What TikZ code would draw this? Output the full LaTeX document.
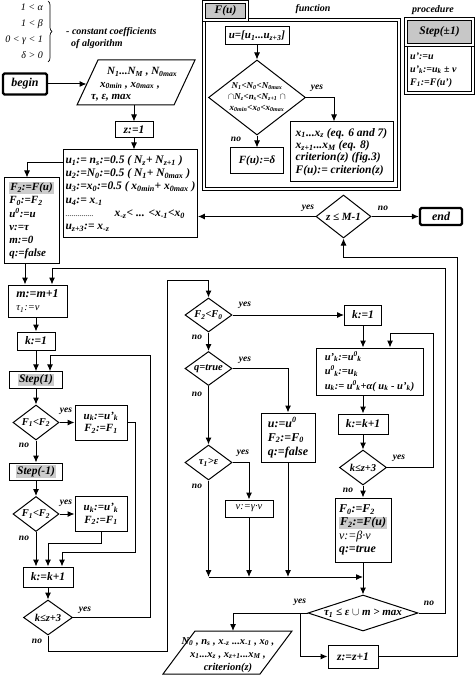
\documentclass[tikz,border=0pt]{standalone}
\usepackage{fontspec}
\setmainfont{Liberation Serif}
\usetikzlibrary{arrows.meta,shapes.geometric,decorations.pathreplacing}

\definecolor{tabgray}{gray}{0.78}
\definecolor{hlgray}{gray}{0.8}
\newcommand\sB[1]{\textsubscript{#1}}
\newcommand\sP[1]{\textsuperscript{#1}}
\newcommand\sPB[2]{\textsuperscript{#1}\kern-0.5pt\textsubscript{#2}}
\newcommand\hl[1]{{\setlength{\fboxsep}{1pt}\colorbox{hlgray}{#1}}}
\newcommand\fsz[2]{\fontsize{#1}{#2}\selectfont}

\tikzset{
  txt/.style={font=\bfseries\itshape\fsz{11.5}{13.5}, inner sep=1pt},
  box/.style={txt, draw, line width=1pt, inner sep=2pt, align=center},
  term/.style={box, line width=2.4pt, rounded corners=1.5pt, font=\bfseries\itshape\fsz{12}{14}},
  dia/.style={diamond, draw, line width=1pt, inner sep=1pt},
  dtxt/.style={txt, font=\bfseries\itshape\fsz{10.5}{12}},
  frame/.style={draw, double, double distance=1.8pt, line width=0.9pt},
  arr/.style={-{Latex[length=7pt,width=6pt]}, line width=1pt},
  yn/.style={txt, font=\bfseries\itshape\fsz{9.5}{10}},
}

\begin{document}
\begin{tikzpicture}[x=1pt, y=-1pt]
	\useasboundingbox (0,0) rectangle (474,676);

	% Draw constants of the algorithm.
	\node[txt, font=\itshape\fsz{10}{16}, align=right, anchor=east] (coef) at (44,31) {1 < α\\1 < β\\0 < γ < 1\\δ > 0};
	\draw[decorate, decoration={brace, amplitude=4pt}, line width=0.7pt] (48,1) -- (48,62);
	\node[txt, font=\bfseries\itshape\fsz{10}{12}, align=left, anchor=west] (note) at (65,38) {- constant coefficients\\\ \ of algorithm};

	% Draw start and input data.
	\node[term, minimum width=44, minimum height=21] (start) at (25,84) {begin};
	\draw[line width=1pt] (98,60) -- (195,60) -- (174,105) -- (77,105) -- cycle;
	\node[txt, font=\bfseries\itshape\fsz{11}{12.5}, align=left, anchor=west] (inp) at (90,84.5)
		{\hspace{16pt}N\sB{1}...N\sB{M} , N\sB{0max}\\\hspace{9pt}x\sB{0min} , x\sB{0max} ,\\τ, ε, max};
	\coordinate (inL) at (86.5,84);
	\coordinate (inB) at (134,105);

	% Draw initialisation.
	\node[box, minimum width=38, minimum height=16] (zone) at (134,130) {z:=1};
	\node[box, minimum width=133, minimum height=87, align=left, font=\bfseries\itshape\fsz{11.5}{13.3}] (ubox) at (130.5,193.5)
		{u\sB{1}:= n\sB{s}:=0.5 ( N\sB{z}+ N\sB{z+1} )\\u\sB{2}:=N\sB{0}:=0.5 ( N\sB{1}+ N\sB{0max} )\\u\sB{3}:=x\sB{0}:=0.5 ( x\sB{0min}+ x\sB{0max} )\\u\sB{4}:= x\sB{-1}\\\makebox[49pt][l]{\mdseries\fsz{8}{10}..............}x\sB{-z}< ... <x\sB{-1}<x\sB{0}\\u\sB{z+3}:= x\sB{-z}};
	\node[box, minimum width=55, minimum height=85, align=left, font=\bfseries\itshape\fsz{11}{13.2}] (ftwo) at (31.5,220.5)
		{\hl{F\sB{2}:=F(u)}\\F\sB{0}:=F\sB{2}\\u\sP{0}:=u\\ν:=τ\\m:=0\\q:=false};

	% Draw left column.
	\node[box, minimum width=59, minimum height=32, align=left, font=\bfseries\itshape\fsz{12}{13}] (mbox) at (37.5,301) {m:=m+1\\{\mdseries\fsz{10.5}{13}τ\sB{1}:=ν}};
	\node[box, minimum width=38, minimum height=18] (kone) at (36,341) {k:=1};
	\node[box, minimum width=53, minimum height=16] (sone) at (36,380) {\hl{Step(1)}};
	\node[dia, minimum width=46, minimum height=35, label={[dtxt]center:{F\sB{1}<F\sB{2}}}] (done) at (36,422.5) {};
	\node[box, minimum width=52, minimum height=35, font=\bfseries\itshape\fsz{11}{12.5}] (yone) at (101,422.5) {u\sB{k}:=u'\sB{k}\\F\sB{2}:=F\sB{1}};
	\node[box, minimum width=53, minimum height=17] (stwo) at (36,471.5) {\hl{Step(-1)}};
	\node[dia, minimum width=46, minimum height=35, label={[dtxt]center:{F\sB{1}<F\sB{2}}}] (dtwo) at (36,514) {};
	\node[box, minimum width=52, minimum height=35, font=\bfseries\itshape\fsz{11}{12.5}] (ytwo) at (101,514) {u\sB{k}:=u'\sB{k}\\F\sB{2}:=F\sB{1}};
	\node[box, minimum width=50, minimum height=20] (kinc) at (48,577) {k:=k+1};
	\node[dia, minimum width=49, minimum height=35, label={[dtxt]center:{k≤z+3}}] (kchk) at (48,617.5) {};

	% Draw middle column.
	\node[dia, minimum width=47, minimum height=34, label={[dtxt]center:{F\sB{2}<F\sB{0}}}] (dfz) at (208.5,315) {};
	\node[dia, minimum width=47, minimum height=34, label={[dtxt]center:{q=true}}] (dq) at (208.5,368.5) {};
	\node[dia, minimum width=47, minimum height=35, label={[dtxt]center:{τ\sB{1}>ε}}] (dtau) at (208.5,462.5) {};
	\node[box, minimum width=54, minimum height=49, align=left, font=\bfseries\itshape\fsz{12}{14}] (ures) at (288,437.5) {u:=u\sP{0}\\F\sB{2}:=F\sB{0}\\q:=false};
	\node[box, minimum width=48, minimum height=17, font=\mdseries\itshape\fsz{10.5}{12}] (nured) at (249,508.5) {ν:=γ·ν};

	% Draw right column.
	\node[dia, minimum width=55, minimum height=43, label={[dtxt, font=\bfseries\itshape\fsz{11}{12}]center:{z ≤ M-1}}] (zchk) at (343.5,216.5) {};
	\node[term, minimum width=42, minimum height=17] (fin) at (441,216.5) {end};
	\node[box, minimum width=37, minimum height=20] (ktwo) at (363,315) {k:=1};
	\node[box, minimum width=107, minimum height=47, align=left, font=\bfseries\itshape\fsz{10.5}{14.5}] (ubar) at (369.5,371.5)
		{u'\sB{k}:=u\sPB{0}{k}\\u\sPB{0}{k}:=u\sB{k}\\u\sB{k}:= u\sPB{0}{k}+α( u\sB{k} - u'\sB{k})};
	\node[box, minimum width=50, minimum height=20] (kinr) at (363,424) {k:=k+1};
	\node[dia, minimum width=47, minimum height=35, label={[dtxt]center:{k≤z+3}}] (kchr) at (363,467.5) {};
	\node[box, minimum width=56, minimum height=64, align=left, font=\bfseries\itshape\fsz{12}{13.5}] (fzero) at (363,530) {F\sB{0}:=F\sB{2}\\\hl{F\sB{2}:=F(u)}\\{\mdseries ν:=β·ν}\\q:=true};
	\node[dia, minimum width=110, minimum height=36, label={[dtxt, font=\bfseries\itshape\fsz{11}{12}]center:{τ\sB{1} ≤ ε $\cup$ m > max}}] (stop) at (363,613) {};
	\node[box, minimum width=50, minimum height=23] (zinc) at (353,656.5) {z:=z+1};

	% Draw output data.
	\draw[line width=1pt] (195,631) -- (292,631) -- (260,674) -- (163,674) -- cycle;
	\node[txt, font=\bfseries\itshape\fsz{10.5}{13}, align=center] (outp) at (228,655)
		{N\sB{0} , n\sB{s} , x\sB{-z} ...x\sB{-1} , x\sB{0} ,\\x\sB{1}...x\sB{z} , x\sB{z+1}...x\sB{M} ,\\criterion(z)};
	\coordinate (outtop) at (233,631);

	% Draw function F(u).
	\node[frame, minimum width=195, minimum height=169] (fun) at (301.5,104.5) {};
	\node[frame, fill=tabgray, minimum width=43, minimum height=18, txt, font=\bfseries\itshape\fsz{11.5}{13}] (funtab) at (225.5,11) {F(u)};
	\node[txt, font=\bfseries\itshape\fsz{10}{11}] (funlbl) at (313,9) {function};
	\node[box, minimum width=64, minimum height=18, font=\bfseries\itshape\fsz{11}{12}] (uvec) at (257,36) {u=[u\sB{1}...u\sB{z+3}]};
	\node[dia, minimum width=97, minimum height=75,
		label={[txt, align=center, font=\bfseries\itshape\fsz{9}{11}]center:{N\sB{1}<N\sB{0}<N\sB{0max}\\$\cap$N\sB{z}<n\sB{s}<N\sB{z+1} $\cap$\\x\sB{0min}<x\sB{0}<x\sB{0max}}}] (fdia) at (257,97.5) {};
	\node[box, minimum width=103, minimum height=60, align=left, font=\bfseries\itshape\fsz{11.5}{12.4}] (fval) at (341.5,152) {x\sB{1}...x\sB{z} (eq. 6 and 7)\\x\sB{z+1}...x\sB{M} (eq. 8)\\criterion(z) (fig.3)\\F(u):= criterion(z)};
	\node[box, minimum width=53, minimum height=26, font=\bfseries\itshape\fsz{11}{12}] (fpen) at (257,161) {F(u):=δ};

	% Draw procedure Step.
	\node[txt, font=\bfseries\itshape\fsz{10}{11}] (proclbl) at (433,10) {procedure};
	\node[frame, minimum width=67, minimum height=74] (proc) at (439.5,56) {};
	\node[frame, fill=tabgray, minimum width=67, minimum height=26, txt, font=\bfseries\itshape\fsz{11.5}{13}] (proctab) at (439.5,32) {Step(±1)};
	\node[txt, anchor=west, align=left, font=\bfseries\itshape\fsz{10}{13}] (proctxt) at (409,70) {u':=u\\u'\sB{k}:=u\sB{k} ± ν\\F\sB{1}:=F(u')};

	% Bends of the connectors.
	\coordinate (loopA) at (445,268);
	\coordinate (loopB) at (150,355);
	\coordinate (loopC) at (135,552);
	\coordinate (loopD) at (48,543);
	\coordinate (loopE) at (167,651);
	\coordinate (loopF) at (167,280);
	\coordinate (loopG) at (457,257);
	\coordinate (loopH) at (433,333);
	\coordinate (joinL) at (208.5,577);
	\coordinate (branch) at (300,613);

	% Draw connectors.
	\draw[arr] (start.east) -- (start.east -| inL);
	\draw[arr] (inB) -- (inB |- zone.north);
	\draw[arr] (zone.south) -- (zone.south |- ubox.north);
	\draw[arr] ([yshift=-13pt]ubox.north west) -| ([xshift=-4.5pt]ftwo.north);
	\draw[arr] ([xshift=-6.5pt]ftwo.south) -- ([xshift=-6.5pt]ftwo.south |- mbox.north);
	\draw[arr] (mbox.south -| kone) -- (kone);
	\draw[arr] (kone) -- (sone);
	\draw[arr] (sone) -- (done);
	\draw[arr] (done) -- (yone);
	\draw[arr] (done) -- (stwo);
	\draw[arr] (stwo) -- (dtwo);
	\draw[arr] (dtwo) -- (ytwo);
	\draw[arr] (yone.east) -| (loopC) -| ([xshift=14pt]kinc.north);
	\draw[arr] (ytwo.south) |- (loopD) -- (kinc.north);
	\draw[arr] (dtwo.south) -- (dtwo.south |- kinc.north);
	\draw[arr] (kinc) -- (kchk);
	\draw[arr] (kchk.east) -| (loopB) -| ([xshift=14pt]sone.north);
	\draw[arr] (kchk.south) |- (loopE) -- (loopF) -| (dfz.north);
	\draw[arr] (dfz.east) -- (ktwo.west);
	\draw[arr] (dfz) -- (dq);
	\draw[arr] (dq.east) -| (ures.north);
	\draw[arr] (dq) -- (dtau);
	\draw[arr] (dtau.east) -| (nured.north);
	\foreach \src in {dtau.south, nured.south, ures.south} {
		\draw[arr] (\src) -- (\src |- joinL);
	}
	\draw[arr] (joinL) -- (joinL -| fzero.south);
	\draw[arr] (ktwo) -- (ktwo |- ubar.north);
	\draw[arr] (kinr.north |- ubar.south) -- (kinr.north);
	\draw[arr] (kinr) -- (kchr);
	\draw[arr] (kchr.east) -| (loopH) -| ([xshift=20.5pt]ubar.north);
	\draw[arr] (kchr) -- (fzero);
	\draw[arr] (fzero) -- (stop);
	\draw[arr] (stop.east) -| (loopA) -| ([xshift=14.5pt]mbox.north);
	\draw[arr] (stop.west) -| (outtop);
	\draw[arr] (branch) |- (zinc.west);
	\draw[arr] (zinc.east) -| (loopG) -| (zchk.south);
	\draw[arr] (zchk.west) -- (zchk.west -| ubox.east);
	\draw[arr] (zchk) -- (fin);
	\draw[arr] (uvec) -- (fdia);
	\draw[arr] (fdia.east) -| ([xshift=-7.5pt]fval.north);
	\draw[arr] (fdia) -- (fpen);

	% Draw yes/no labels.
	\foreach \nm/\pos/\t in {fy/{317,88}/yes, fn/{236,139}/no, zy/{308,208}/yes, zn/{383,208}/no,
		ay/{245,305}/yes, an/{197,337}/no, qy/{245,360}/yes, qn/{197,394}/no,
		ty/{243,453}/yes, tn/{197,486}/no, oy/{66,411}/yes, on/{24,445}/no,
		wy/{66,503}/yes, wn/{24,538}/no, ky/{85,610}/yes, kn/{37,641}/no,
		ry/{399,458}/yes, rn/{348,490}/no, sy/{300,602}/yes, sn/{429,603}/no} {
		\node[yn] (\nm) at (\pos) {\t};
	}
\end{tikzpicture}
\end{document}
